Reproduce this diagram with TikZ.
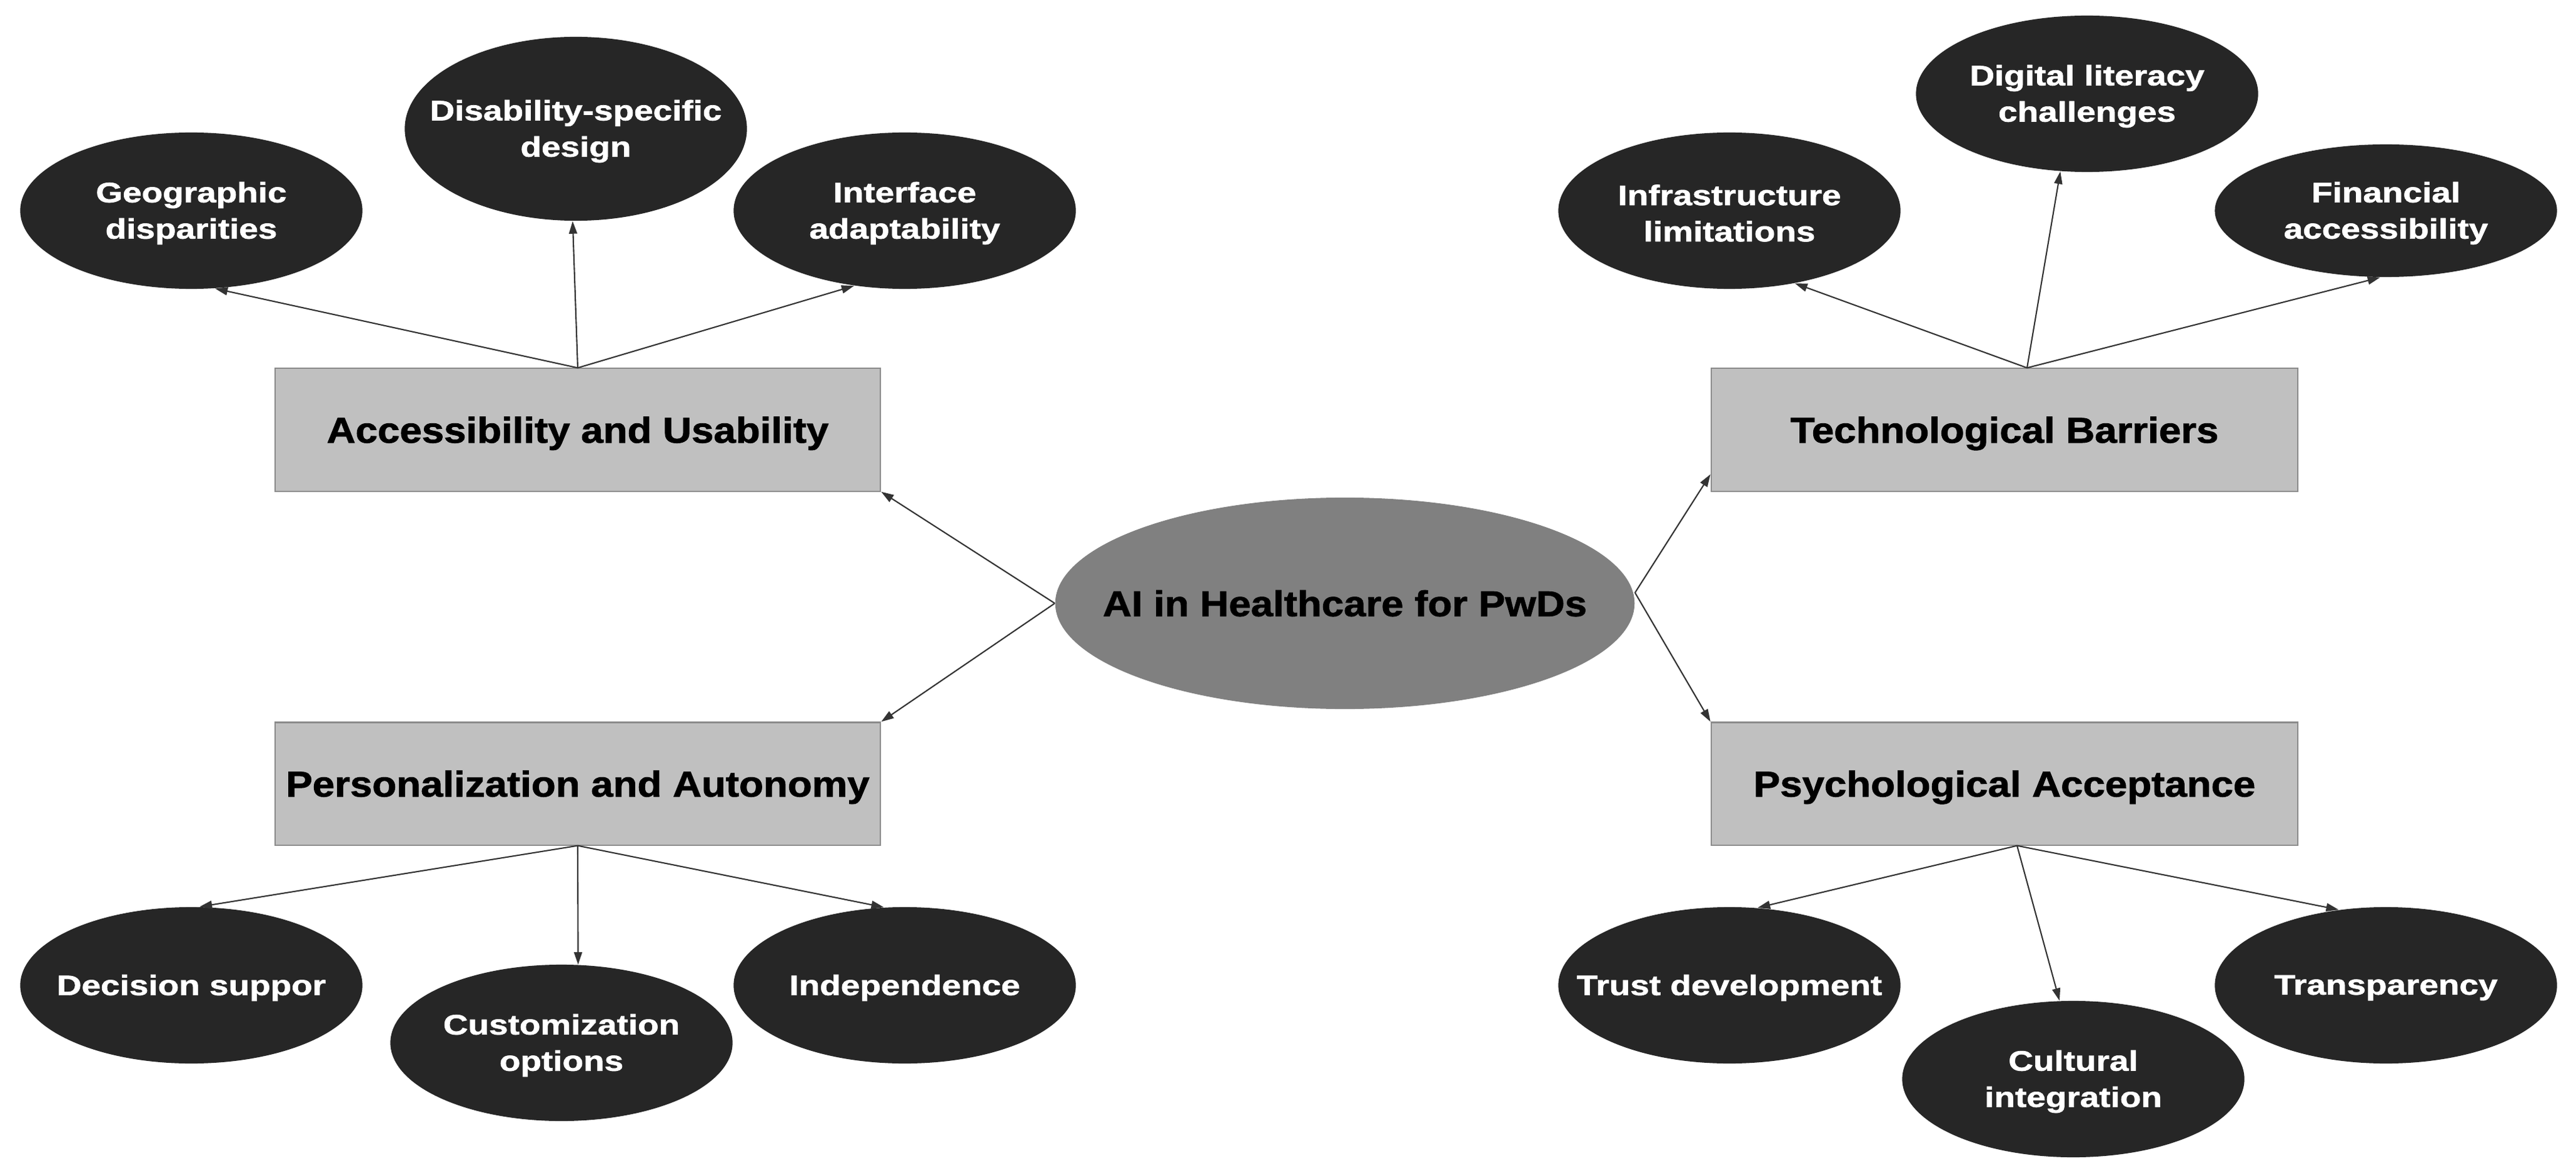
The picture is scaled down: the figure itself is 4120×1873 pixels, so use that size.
\documentclass[tikz,border=0pt]{standalone}
\usepackage{fontspec}
\setmainfont{Liberation Sans}
\newfontfamily\boxfont{Liberation Sans}[FakeStretch=1.11,FakeBold=1.5]
\newfontfamily\ellfont{Liberation Sans}[FakeStretch=1.22,FakeBold=1.5]
\usetikzlibrary{shapes.geometric,arrows.meta,calc}
\definecolor{ellfill}{HTML}{262626}
\definecolor{cenfill}{HTML}{808080}
\definecolor{boxfill}{HTML}{C0C0C0}
\definecolor{boxdraw}{HTML}{8C8C8C}
\definecolor{linecol}{HTML}{333333}
\tikzset{
  ell/.style={ellipse, fill=ellfill, draw=none, inner sep=0pt,
    minimum width=5.47cm, minimum height=2.5cm},
  elltext/.style={text=white, align=center, inner sep=0pt, yshift=-0.04cm,
    font=\ellfont\bfseries\fontsize{12.8}{16.5}\selectfont},
  catbox/.style={rectangle, fill=boxfill, draw=boxdraw, line width=0.6pt,
    minimum height=1.96cm, inner sep=0pt, text height=11.7pt, text depth=0pt,
    font=\boxfont\bfseries\fontsize{16.3}{19}\selectfont},
  cenell/.style={ellipse, fill=cenfill, draw=none, inner sep=0pt,
    minimum width=9.26cm, minimum height=3.38cm},
  centext/.style={text=black, inner sep=0pt, text height=11.7pt, text depth=0pt,
    font=\boxfont\bfseries\fontsize{16.3}{19}\selectfont},
  conn/.style={draw=linecol, line width=0.6pt,
    -{Triangle[length=0.2cm,width=0.13cm]}}
}
\begin{document}
\begin{tikzpicture}[x=0.01cm,y=-0.01cm]
\fill[white] (0,0) rectangle (4120,1873);
\useasboundingbox (0,0) rectangle (4120,1873);

% centre
\node[cenell, label={[centext]center:AI in Healthcare for PwDs}] (cen) at (2151,965) {};

% category boxes
\node[catbox, minimum width=9.68cm] (acc) at (924,687.5) {Accessibility and Usability};
\node[catbox, minimum width=9.38cm] (tech) at (3206,687.5) {Technological Barriers};
\node[catbox, minimum width=9.68cm] (pers) at (924,1253.5) {Personalization and Autonomy};
\node[catbox, minimum width=9.38cm] (psych) at (3206,1253.5) {Psychological Acceptance};

% leaf ellipses
\node[ell, label={[elltext]center:Geographic\\disparities}] (geo) at (306,337) {};
\node[ell, minimum height=2.94cm, label={[elltext]center:Disability-specific\\design}] (dis) at (921,206) {};
\node[ell, label={[elltext]center:Interface\\adaptability}] (intf) at (1447,337) {};

\node[ell, label={[elltext]center:Infrastructure\\limitations}] (infra) at (2766,337) {};
\node[ell, label={[elltext]center:Digital literacy\\challenges}] (dig) at (3338,150) {};
\node[ell, minimum height=2.12cm, label={[elltext]center:Financial\\accessibility}] (fin) at (3816,337) {};

\node[ell, label={[elltext]center:Decision suppor}] (dec) at (306,1576) {};
\node[ell, label={[elltext]center:Customization\\options}] (cus) at (898,1668) {};
\node[ell, label={[elltext]center:Independence}] (ind) at (1447,1576) {};

\node[ell, label={[elltext]center:Trust development}] (trust) at (2766,1576) {};
\node[ell, label={[elltext]center:Cultural\\integration}] (cult) at (3316,1726) {};
\node[ell, label={[elltext]center:Transparency}] (transp) at (3816,1576) {};

% centre to categories
\coordinate (ceneast) at ($(cen.east)+(0,-17)$);
\draw[conn] (cen.west) -- (acc.south east);
\draw[conn] (cen.west) -- (pers.north east);
\draw[conn] (ceneast) -- ($(tech.south west)+(0,-28)$);
\draw[conn] (ceneast) -- (psych.north west);

% accessibility
\draw[conn] (acc.north) -- (geo.-73);
\draw[conn] (acc.north) -- (dis.-92);
\draw[conn] (acc.north) -- (intf.-124);

% technological
\coordinate (techtop) at ($(tech.north)+(36,0)$);
\draw[conn] (techtop) -- (infra.-48);
\draw[conn] (techtop) -- (dig.-109);
\draw[conn] (techtop) -- (fin.-95);

% personalization
\draw[conn] (pers.south) -- (dec.84);
\draw[conn] (pers.south) -- (cus.78);
\draw[conn] (pers.south) -- (ind.105);

% psychological
\coordinate (psybot) at ($(psych.south)+(20,0)$);
\draw[conn] (psybot) -- (trust.70);
\draw[conn] (psybot) -- (cult.100);
\draw[conn] (psybot) -- (transp.122);
\end{tikzpicture}
\end{document}
